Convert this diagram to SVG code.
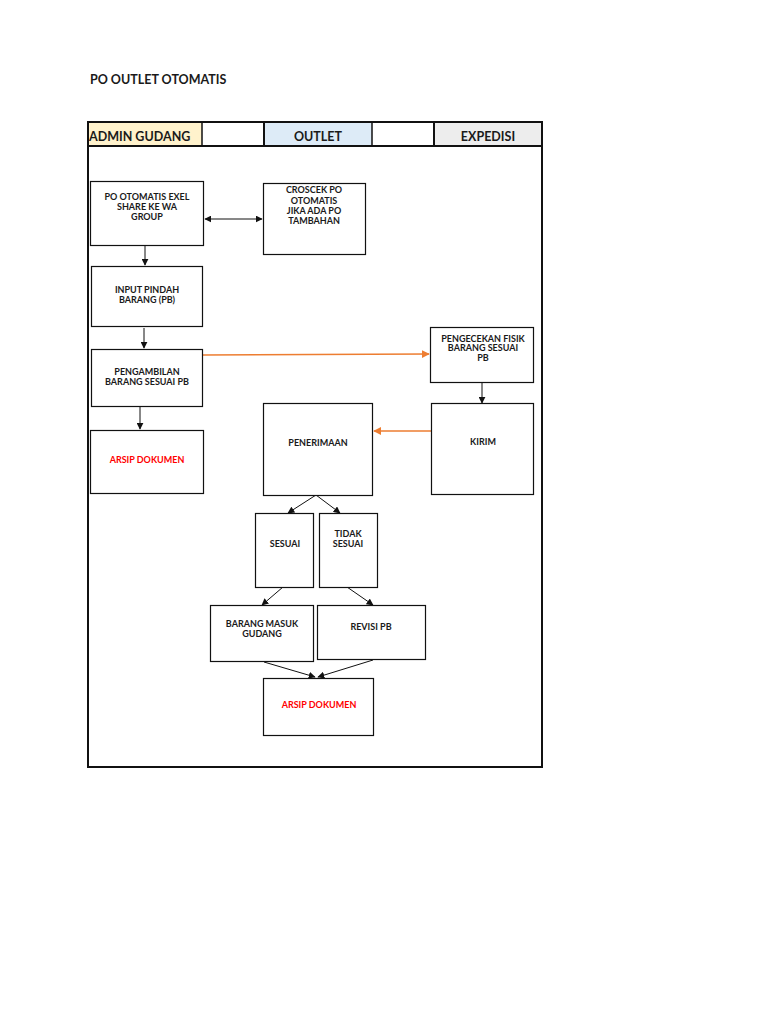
<svg xmlns="http://www.w3.org/2000/svg" width="768" height="1024" viewBox="0 0 768 1024">
<style>
text{font-family:Lato,"Liberation Sans",sans-serif;font-weight:bold;fill:#1a1a1a}
.t{font-size:9px;text-anchor:middle}
.red{fill:#ff0000}
.h{font-size:12.5px}
.box{fill:#fff;stroke:#111;stroke-width:1.2}
.c{stroke:#111;stroke-width:1;fill:none;marker-end:url(#ab)}
.o{stroke:#ed7d31;stroke-width:1.5;fill:none;marker-end:url(#ao)}
</style>
<defs>
<marker id="ab" viewBox="0 0 10 10" refX="9" refY="5" markerWidth="7" markerHeight="7" markerUnits="userSpaceOnUse" orient="auto-start-reverse"><path d="M0,0L10,5L0,10z" fill="#111"/></marker>
<marker id="ao" viewBox="0 0 10 10" refX="9" refY="5" markerWidth="8" markerHeight="8" markerUnits="userSpaceOnUse" orient="auto"><path d="M0,0L10,5L0,10z" fill="#ed7d31"/></marker>
</defs>
<rect width="768" height="1024" fill="#fff"/>
<text x="90" y="84" class="h" font-size="12">PO OUTLET OTOMATIS</text>
<g id="frame">
<rect x="88" y="122" width="454" height="645" fill="#fff" stroke="#111" stroke-width="2"/>
<rect x="89" y="123" width="113" height="23" fill="#fff2cc"/>
<rect x="264" y="123" width="108" height="23" fill="#ddebf7"/>
<rect x="434" y="123" width="107" height="23" fill="#ededed"/>
<line x1="88" y1="146" x2="542" y2="146" stroke="#111" stroke-width="2"/>
<line x1="202" y1="122" x2="202" y2="146" stroke="#111" stroke-width="1.5"/>
<line x1="264" y1="122" x2="264" y2="146" stroke="#111" stroke-width="2"/>
<line x1="372" y1="122" x2="372" y2="146" stroke="#111" stroke-width="1.5"/>
<line x1="434" y1="122" x2="434" y2="146" stroke="#111" stroke-width="2"/>
<text x="89" y="141" class="h">ADMIN GUDANG</text>
<text x="318" y="141" class="h" text-anchor="middle">OUTLET</text>
<text x="488" y="141" class="h" text-anchor="middle">EXPEDISI</text>
</g>
<g id="connectors">
<line x1="205" y1="219" x2="262" y2="219" class="c" marker-start="url(#ab)"/>
<line x1="145" y1="246" x2="145" y2="265" class="c"/>
<line x1="144" y1="328" x2="144" y2="348" class="c" stroke="#777"/>
<line x1="140" y1="407" x2="140" y2="429" class="c"/>
<line x1="203" y1="355" x2="429" y2="354" class="o"/>
<line x1="482" y1="383" x2="482" y2="403" class="c" stroke="#555"/>
<line x1="431" y1="431" x2="374" y2="431" class="o"/>
<line x1="316" y1="495" x2="288" y2="513" class="c"/>
<line x1="316" y1="495" x2="340" y2="513" class="c"/>
<line x1="283" y1="587" x2="262" y2="605" class="c"/>
<line x1="347" y1="587" x2="373" y2="605" class="c"/>
<line x1="264" y1="662" x2="315" y2="677" class="c"/>
<line x1="373" y1="660" x2="318" y2="677" class="c"/>
</g>
<g id="n1"><rect x="90.5" y="181.5" width="113" height="64" class="box"/>
<text class="t" x="147" y="200">PO OTOMATIS EXEL</text><text class="t" x="147" y="210">SHARE KE WA</text><text class="t" x="147" y="220">GROUP</text></g>
<g id="n2"><rect x="263.5" y="183.5" width="102" height="71" class="box"/>
<text class="t" x="314" y="193">CROSCEK PO</text><text class="t" x="314" y="204">OTOMATIS</text><text class="t" x="314" y="214">JIKA ADA PO</text><text class="t" x="314" y="224">TAMBAHAN</text></g>
<g id="n3"><rect x="91.5" y="266.5" width="111" height="60" class="box"/>
<text class="t" x="147" y="293">INPUT PINDAH</text><text class="t" x="147" y="303">BARANG (PB)</text></g>
<g id="n4"><rect x="91.5" y="349.5" width="111" height="57" class="box"/>
<text class="t" x="147" y="375">PENGAMBILAN</text><text class="t" x="147" y="385">BARANG SESUAI PB</text></g>
<g id="n5"><rect x="90.5" y="430.5" width="113" height="63" class="box"/>
<text class="t red" x="147" y="463">ARSIP DOKUMEN</text></g>
<g id="n6"><rect x="430.5" y="327.5" width="103" height="55" class="box"/>
<text class="t" x="483" y="342">PENGECEKAN FISIK</text><text class="t" x="483" y="351">BARANG SESUAI</text><text class="t" x="483" y="361">PB</text></g>
<g id="n7"><rect x="431.5" y="403.5" width="102" height="91" class="box"/>
<text class="t" x="483" y="445">KIRIM</text></g>
<g id="n8"><rect x="263.5" y="403.5" width="109" height="92" class="box"/>
<text class="t" x="318" y="446">PENERIMAAN</text></g>
<g id="n9"><rect x="255.5" y="513.5" width="58" height="74" class="box"/>
<text class="t" x="285" y="547">SESUAI</text></g>
<g id="n10"><rect x="319.5" y="513.5" width="58" height="74" class="box"/>
<text class="t" x="348" y="537">TIDAK</text><text class="t" x="348" y="547">SESUAI</text></g>
<g id="n11"><rect x="210.5" y="605.5" width="103" height="56" class="box"/>
<text class="t" x="262" y="627">BARANG MASUK</text><text class="t" x="262" y="637">GUDANG</text></g>
<g id="n12"><rect x="317.5" y="605.5" width="108" height="54" class="box"/>
<text class="t" x="371" y="630">REVISI PB</text></g>
<g id="n13"><rect x="263.5" y="678.5" width="110" height="57" class="box"/>
<text class="t red" x="319" y="708">ARSIP DOKUMEN</text></g>
</svg>
